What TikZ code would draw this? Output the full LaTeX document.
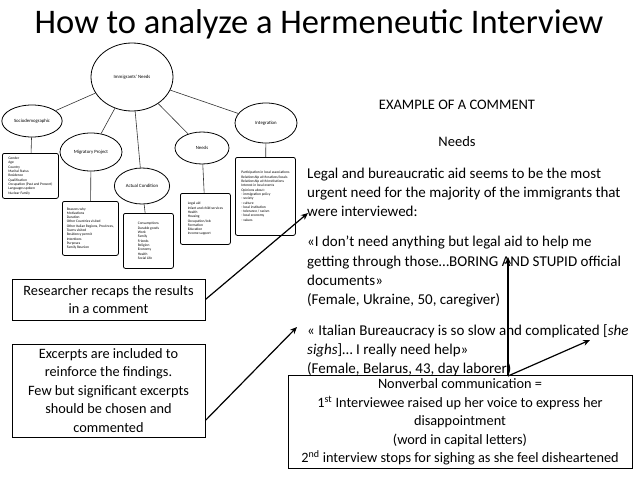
\documentclass[tikz,border=0pt]{standalone}
\usepackage{fontspec}
\setmainfont{Carlito}
\usetikzlibrary{arrows.meta}
\tikzset{
 ell/.style={draw,ellipse,line width=0.8pt,font=\fontsize{4.8}{5}\selectfont},
 sbox/.style={draw,rounded corners=2pt,line width=0.8pt,align=left,anchor=north west,inner sep=2.5pt,font=\fontsize{3.6}{4.3}\selectfont},
 bbox/.style={draw,line width=0.8pt,align=center,font=\fontsize{14.3}{18}\selectfont},
 ln/.style={line width=0.6pt,draw=black!80},
 arr/.style={line width=1.2pt,-{Stealth[length=7pt,width=6pt]}},
 txt/.style={anchor=base west,font=\fontsize{15}{15}\selectfont,inner sep=0pt}
}
\usetikzlibrary{shapes.geometric}
\begin{document}
\begin{tikzpicture}[x=1pt,y=-1pt]
\useasboundingbox (0,0) rectangle (638,479);
\node[font=\fontsize{34.5}{38}\selectfont] (title) at (319,24) {How to analyze a Hermeneutic Interview};
% mind map
\node[ell,minimum width=82pt,minimum height=68pt] (root) at (132,77) {Immigrants' Needs};
\node[ell,minimum width=60pt,minimum height=32pt] (soc) at (32,121) {Sociodemographic};
\node[ell,minimum width=62pt,minimum height=38pt] (mig) at (91,152) {Migratory Project};
\node[ell,minimum width=50pt,minimum height=36pt] (act) at (142,186) {Actual Condition};
\node[ell,minimum width=54pt,minimum height=32pt] (need) at (202,148) {Needs};
\node[ell,minimum width=62pt,minimum height=40pt] (int) at (266,123) {Integration};
\draw[ln] (root) -- (soc); \draw[ln] (root) -- (mig); \draw[ln] (root) -- (act);
\draw[ln] (root) -- (need); \draw[ln] (root) -- (int);
\node[sbox,minimum width=56pt,minimum height=45pt] (sb) at (2,153) {Gender\\Age\\Country\\Marital Status\\Residence\\Qualification\\Occupation (Past and Present)\\Languages spoken\\Nuclear Family};
\node[sbox,minimum width=56pt,minimum height=54pt] (mb) at (62,201) {Reasons why\\Motivations\\Duration\\Other Countries visited\\Other Italian Regions, Provinces,\\Towns visited\\Residency permit\\Intentions\\Purposes\\Family Reunion};
\node[sbox,minimum width=50pt,minimum height=55pt] (ab) at (123,213) {Consumptions\\Durable goods\\Work\\Family\\Friends\\Religion\\Economy\\Health\\Social Life};
\node[sbox,minimum width=50pt,minimum height=51pt] (nb) at (180,193) {Legal aid\\Infant and child services\\Health\\Housing\\Occupation/Job\\Formation\\Education\\Income support};
\node[sbox,minimum width=60pt,minimum height=78pt] (ib) at (235,157) {Participation in local associations\\Relationship with natives/locals\\Relationship with Institutions\\Interest in local events\\Opinions about:\\- immigration policy\\- society\\- culture\\- local institution\\- tolerance / racism\\- local economy\\- values};
\draw[ln] (soc) -- (sb); \draw[ln] (mig) -- (mb); \draw[ln] (act) -- (ab);
\draw[ln] (need) -- (nb); \draw[ln] (int) -- (ib);
% comment text
\node[font=\fontsize{14.5}{16}\selectfont] (ex) at (457,105) {EXAMPLE OF A COMMENT};
\node[font=\fontsize{14.5}{16}\selectfont] (nd) at (457,142) {Needs};
\node[txt] (l1) at (307,178) {Legal and bureaucratic aid seems to be the most};
\node[txt] (l2) at (307,197) {urgent need for the majority of the immigrants that};
\node[txt] (l3) at (307,216) {were interviewed:};
\node[txt] (l4) at (307,246) {«I don't need anything but legal aid to help me};
\node[txt] (l5) at (307,266) {getting through those…BORING AND STUPID official};
\node[txt] (l6) at (307,285) {documents»};
\node[txt] (l7) at (307,304) {(Female, Ukraine, 50, caregiver)};
\node[txt] (l8) at (307,335) {« Italian Bureaucracy is so slow and complicated [\textit{she}};
\node[txt] (l9) at (307,354) {\textit{sighs}]… I really need help»};
\node[txt] (l10) at (307,373) {(Female, Belarus, 43, day laborer)};
% boxes
\node[bbox,minimum width=193pt,minimum height=41pt] (rb) at (108.5,299.5) {Researcher recaps the results\\in a comment};
\node[bbox,minimum width=193pt,minimum height=93pt,font=\fontsize{14.3}{18.5}\selectfont] (eb) at (108.5,390.5) {Excerpts are included to\\reinforce the findings.\\Few but significant excerpts\\should be chosen and\\commented};
\node[bbox,minimum width=344pt,minimum height=93pt,font=\fontsize{14.3}{18.5}\selectfont] (nvb) at (460,422) {Nonverbal communication =\\1\textsuperscript{st} Interviewee raised up her voice to express her\\disappointment\\(word in capital letters)\\2\textsuperscript{nd} interview stops for sighing as she feel disheartened};
\coordinate (a1) at (308,213);
\coordinate (a2) at (297,327);
\coordinate (o3) at (508,376);
\coordinate (a3) at (508,257);
\coordinate (a4) at (590,340);
\draw[arr] (rb.east) -- (a1);
\draw[arr] ([yshift=-30pt]eb.east) -- (a2);
\draw[arr] (o3) -- (a3);
\draw[arr] (o3) -- (a4);
\end{tikzpicture}
\end{document}
